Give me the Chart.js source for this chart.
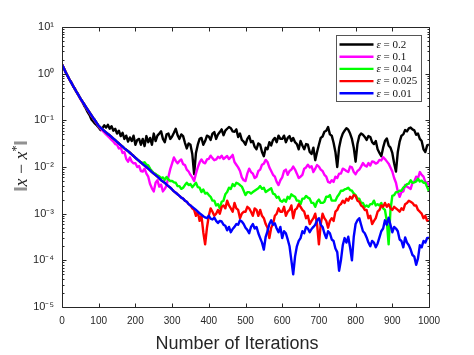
<!DOCTYPE html>
<html><head><meta charset="utf-8">
<script src="https://cdn.jsdelivr.net/npm/chart.js@4/dist/chart.umd.min.js"></script>
<style>html,body{margin:0;padding:0;background:#fff;}#wrap{width:474px;height:355px;}</style>
</head><body>
<div id="wrap"><canvas id="c" width="474" height="355"></canvas></div>
<script>
const iterations = [
0,5,10,15,20,25,30,35,40,45,50,55,60,65,70,75,80,85,90,95,
100,105,110,115,120,125,130,135,140,145,150,155,160,165,170,175,180,185,190,195,
200,205,210,215,220,225,230,235,240,245,250,255,260,265,270,275,280,285,290,295,
300,305,310,315,320,325,330,335,340,345,350,355,360,365,370,375,380,385,390,395,
400,405,410,415,420,425,430,435,440,445,450,455,460,465,470,475,480,485,490,495,
500,505,510,515,520,525,530,535,540,545,550,555,560,565,570,575,580,585,590,595,
600,605,610,615,620,625,630,635,640,645,650,655,660,665,670,675,680,685,690,695,
700,705,710,715,720,725,730,735,740,745,750,755,760,765,770,775,780,785,790,795,
800,805,810,815,820,825,830,835,840,845,850,855,860,865,870,875,880,885,890,895,
900,905,910,915,920,925,930,935,940,945,950,955,960,965,970,975,980,985,990,995,
1000];

const epsilonLabels = ['0.2','0.1','0.04','0.025','0.01'];
const seriesColors = ['#000000','#ff00ff','#00ff00','#ff0000','#0000ff'];

const errEps0_2 = [
1.58,1.3,1.07,0.9,0.76,0.65,0.55,0.47,0.40,0.345,0.295,0.25,0.21,0.18,0.15,0.13,0.105,0.095,0.085,0.078,
0.07,0.062,0.068,0.078,0.07,0.08,0.066,0.075,0.06,0.066,0.052,0.06,0.046,0.054,0.04,0.047,0.035,0.043,0.036,0.047,
0.03,0.038,0.04,0.03,0.04,0.028,0.046,0.034,0.042,0.03,0.052,0.036,0.047,0.052,0.058,0.04,0.034,0.05,0.052,0.04,
0.045,0.054,0.066,0.048,0.04,0.05,0.046,0.033,0.025,0.032,0.03,0.019,0.007,0.02,0.03,0.04,0.042,0.03,0.036,0.047,
0.045,0.038,0.052,0.056,0.04,0.05,0.056,0.064,0.048,0.06,0.066,0.072,0.068,0.058,0.057,0.064,0.044,0.052,0.038,0.035,
0.03,0.04,0.046,0.034,0.036,0.027,0.024,0.032,0.03,0.021,0.017,0.026,0.024,0.034,0.029,0.038,0.042,0.034,0.047,0.04,
0.04,0.047,0.034,0.042,0.046,0.036,0.042,0.034,0.031,0.024,0.036,0.029,0.024,0.031,0.03,0.021,0.019,0.026,0.014,0.021,
0.03,0.042,0.045,0.057,0.06,0.072,0.05,0.047,0.033,0.021,0.01,0.026,0.04,0.052,0.06,0.068,0.063,0.052,0.04,0.026,
0.013,0.031,0.046,0.052,0.049,0.044,0.038,0.046,0.044,0.034,0.031,0.036,0.024,0.02,0.017,0.026,0.036,0.041,0.029,0.026,
0.02,0.012,0.008,0.021,0.035,0.047,0.05,0.062,0.058,0.067,0.07,0.064,0.061,0.049,0.052,0.04,0.036,0.024,0.021,0.029,
0.03];

const errEps0_1 = [
1.58,1.3,1.07,0.9,0.76,0.65,0.55,0.47,0.40,0.345,0.29,0.25,0.22,0.19,0.165,0.145,0.125,0.11,0.097,0.085,
0.073,0.066,0.06,0.055,0.05,0.046,0.042,0.038,0.035,0.031,0.03,0.025,0.026,0.02,0.021,0.015,0.013,0.016,0.013,0.012,
0.012,0.01,0.0105,0.0082,0.008,0.0092,0.0072,0.0062,0.0043,0.0035,0.003,0.0046,0.0052,0.0038,0.0042,0.003,0.0034,0.004,0.0062,0.009,
0.012,0.016,0.0135,0.012,0.0135,0.0145,0.0115,0.011,0.0088,0.008,0.0068,0.006,0.005,0.0072,0.0098,0.0125,0.0145,0.0125,0.012,0.0145,
0.015,0.0175,0.0155,0.014,0.0145,0.0165,0.0155,0.0175,0.0148,0.016,0.0172,0.0148,0.0162,0.0182,0.0128,0.0112,0.0098,0.0082,0.006,0.0052,
0.005,0.0072,0.0092,0.0078,0.0072,0.0058,0.0062,0.0082,0.0088,0.0112,0.0118,0.0142,0.0128,0.0098,0.0082,0.0068,0.0062,0.0048,0.0041,0.0052,
0.006,0.0082,0.0088,0.0068,0.0082,0.0088,0.0102,0.0088,0.0072,0.0058,0.0062,0.0068,0.0092,0.0098,0.0112,0.0098,0.0104,0.0078,0.0092,0.011,
0.0102,0.0088,0.0082,0.0068,0.0062,0.0048,0.0046,0.0052,0.0048,0.0062,0.0058,0.0072,0.0072,0.0092,0.0088,0.0082,0.0078,0.0102,0.0098,0.0078,
0.007,0.0082,0.0088,0.0102,0.0122,0.0108,0.0102,0.0122,0.0108,0.0132,0.0128,0.0118,0.0124,0.0142,0.0138,0.0162,0.0148,0.0132,0.0118,0.0098,
0.008,0.0058,0.0046,0.003,0.0023,0.0029,0.003,0.0041,0.0038,0.0036,0.0034,0.0046,0.0049,0.0062,0.0058,0.0078,0.0068,0.0062,0.0048,0.0046,
0.004];

const errEps0_04 = [
1.58,1.3,1.07,0.9,0.76,0.65,0.55,0.47,0.40,0.345,0.295,0.257,0.224,0.195,0.17,0.148,0.129,0.113,0.1,0.087,
0.076,0.070,0.0646,0.0597,0.055,0.051,0.0479,0.044,0.0407,0.0376,0.0347,0.032,0.0295,0.0272,0.0251,0.0234,0.0219,0.0202,0.0186,0.0172,
0.0158,0.0146,0.0135,0.0125,0.0122,0.0126,0.0112,0.0108,0.0092,0.0082,0.0074,0.0071,0.0066,0.0063,0.0058,0.006,0.0053,0.0061,0.0054,0.005,
0.005,0.0047,0.0046,0.0039,0.0039,0.0034,0.0036,0.0041,0.0046,0.0041,0.0043,0.0037,0.0041,0.0046,0.0037,0.0036,0.0029,0.0033,0.0027,0.0028,
0.0025,0.0023,0.0019,0.0019,0.0015,0.0016,0.0013,0.0018,0.0019,0.0026,0.0029,0.0036,0.0034,0.0043,0.0039,0.0046,0.0044,0.0041,0.0038,0.0031,
0.0025,0.0029,0.0029,0.0027,0.0029,0.0031,0.0033,0.0035,0.0039,0.0034,0.0036,0.0029,0.0031,0.0033,0.0035,0.0027,0.0026,0.0022,0.0023,0.0019,
0.0018,0.002,0.0018,0.0023,0.0021,0.0026,0.0024,0.0023,0.0019,0.0019,0.0016,0.0021,0.0021,0.0024,0.0022,0.0021,0.0017,0.0017,0.0014,0.0018,
0.002,0.0017,0.0017,0.0018,0.0023,0.0023,0.0025,0.0019,0.0019,0.0019,0.0023,0.0026,0.0031,0.0031,0.0033,0.0034,0.0036,0.0032,0.0031,0.0027,
0.0025,0.0021,0.0021,0.0017,0.0017,0.0014,0.0015,0.0014,0.0016,0.0016,0.0019,0.0015,0.0016,0.0015,0.0017,0.0013,0.0012,0.0007,0.00022,0.0012,
0.0024,0.0025,0.0029,0.0029,0.0031,0.0031,0.0036,0.0039,0.0043,0.0044,0.0052,0.0046,0.0047,0.0049,0.0056,0.0049,0.0051,0.0046,0.0046,0.0037,
0.003];

const errEps0_025 = [
1.58,1.3,1.07,0.9,0.76,0.65,0.55,0.47,0.40,0.345,0.295,0.257,0.224,0.195,0.17,0.148,0.129,0.113,0.1,0.087,
0.076,0.070,0.0646,0.0597,0.055,0.051,0.0479,0.044,0.0407,0.0376,0.0347,0.032,0.0295,0.0272,0.0251,0.0234,0.0219,0.0202,0.0186,0.0172,
0.0158,0.0146,0.0135,0.0125,0.0115,0.0107,0.01,0.0092,0.0085,0.0078,0.0072,0.0067,0.0062,0.0057,0.0052,0.0049,0.0046,0.0042,0.0039,0.0036,
0.0033,0.003,0.0028,0.0026,0.0024,0.0022,0.0021,0.0019,0.0018,0.0016,0.0015,0.0013,0.0012,0.0009,0.0011,0.0007,0.0009,0.0004,0.00022,0.0005,
0.0009,0.0013,0.0011,0.0009,0.001,0.0012,0.001,0.0014,0.0015,0.0013,0.0019,0.0015,0.0013,0.0011,0.0017,0.0013,0.0012,0.0008,0.001,0.0011,
0.0011,0.0014,0.0013,0.0011,0.0009,0.0013,0.0012,0.0009,0.0012,0.0009,0.0008,0.0006,0.0005,0.0003,0.0005,0.0006,0.0009,0.001,0.0013,0.0011,
0.0011,0.0014,0.0009,0.0011,0.0012,0.0015,0.0008,0.0012,0.0013,0.0016,0.0014,0.0012,0.0011,0.0008,0.0009,0.0006,0.0007,0.0008,0.001,0.0006,
0.00022,0.0006,0.001,0.0008,0.0007,0.0005,0.0007,0.0008,0.0007,0.0011,0.0012,0.0015,0.0016,0.0019,0.0017,0.0021,0.0019,0.0023,0.0021,0.0025,
0.0024,0.0019,0.0018,0.0015,0.0014,0.0012,0.0012,0.0008,0.0009,0.0006,0.0007,0.0008,0.0011,0.0012,0.0015,0.0014,0.0017,0.0014,0.0016,0.0013,
0.0012,0.0014,0.0013,0.0012,0.0011,0.0013,0.0012,0.0016,0.0017,0.0019,0.0018,0.0017,0.0015,0.0015,0.0012,0.0011,0.001,0.0008,0.0009,0.0007,
0.0007];

const errEps0_01 = [
1.58,1.3,1.07,0.9,0.76,0.65,0.55,0.47,0.40,0.345,0.295,0.257,0.224,0.195,0.17,0.148,0.129,0.113,0.1,0.087,
0.076,0.070,0.0646,0.0597,0.055,0.051,0.0479,0.044,0.0407,0.0376,0.0347,0.032,0.0295,0.0272,0.0251,0.0234,0.0219,0.0202,0.0186,0.0172,
0.0158,0.0146,0.0135,0.0125,0.0115,0.0107,0.01,0.0092,0.0085,0.0078,0.0072,0.0067,0.0062,0.0057,0.0052,0.0049,0.0046,0.0042,0.0039,0.0036,
0.0033,0.003,0.0028,0.0026,0.0024,0.0022,0.0021,0.0019,0.0018,0.0016,0.0015,0.0014,0.0013,0.0012,0.0011,0.00102,0.00095,0.00088,0.00083,0.0008,
0.0009,0.00078,0.00075,0.00082,0.0007,0.00063,0.0007,0.00068,0.00058,0.00055,0.00044,0.00052,0.0004,0.00047,0.00052,0.0006,0.00058,0.00072,0.00068,0.0006,
0.0005,0.00045,0.00038,0.00052,0.0006,0.00048,0.00052,0.00038,0.0003,0.00024,0.00017,0.00032,0.00042,0.0006,0.00072,0.00058,0.00062,0.00048,0.0004,0.00052,
0.0003,0.00042,0.00038,0.00028,0.0002,0.0001,0.00005,0.00012,0.0002,0.00026,0.0003,0.00042,0.00038,0.00052,0.00048,0.0004,0.00047,0.00052,0.00058,0.00072,
0.0008,0.00058,0.00052,0.00038,0.0003,0.00042,0.00038,0.00028,0.00026,0.00018,0.00015,0.00006,0.0001,0.00021,0.0003,0.00024,0.00032,0.00019,0.0001,0.00032,
0.0006,0.00072,0.0008,0.00058,0.00042,0.00038,0.00031,0.00024,0.0002,0.00026,0.00024,0.00019,0.00023,0.00031,0.00042,0.00048,0.00072,0.00058,0.00082,0.00058,
0.0004,0.00052,0.00048,0.00042,0.00028,0.00026,0.00019,0.00031,0.00024,0.00021,0.00017,0.00013,0.00012,0.00008,0.00011,0.00021,0.00019,0.00026,0.00024,0.0003,
0.0003];

const xTickValues = [0,100,200,300,400,500,600,700,800,900,1000];
const yTickValues = [1e-5,1e-4,1e-3,1e-2,1e-1,1,10];
const yTickLabels = ['10\u207B\u2075','10\u207B\u2074','10\u207B\u00B3','10\u207B\u00B2','10\u207B\u00B9','10\u2070','10\u00B9'];
const xAxisTitle = 'Number of Iterations';

const allSeries = [errEps0_2, errEps0_1, errEps0_04, errEps0_025, errEps0_01];
const AXIS_COLOR = '#262626';
const SANS = '"Liberation Sans", Arial, Helvetica, sans-serif';
const SERIF = '"Liberation Serif", "Times New Roman", serif';

const datasets = allSeries.map((vals, i) => ({
  label: '\u03B5 = ' + epsilonLabels[i],
  data: iterations.map((it, j) => ({x: it, y: vals[j]})),
  borderColor: seriesColors[i],
  backgroundColor: seriesColors[i],
  borderWidth: 2.4,
  borderJoinStyle: 'round',
  pointRadius: 0,
  tension: 0,
  fill: false,
  order: allSeries.length - i
}));

const framePlugin = {
  id: 'frame',
  beforeDraw(chart) {
    const ctx = chart.ctx;
    ctx.save(); ctx.fillStyle = '#fff'; ctx.fillRect(0, 0, chart.width, chart.height); ctx.restore();
  },
  afterDatasetsDraw(chart) {
    const {ctx, chartArea: ca, scales: {x, y}} = chart;
    const L = Math.round(ca.left) + 0.5, R = Math.round(ca.right) + 0.5;
    const T = Math.round(ca.top) + 0.5, B = Math.round(ca.bottom) + 0.5;
    ctx.save();
    ctx.strokeStyle = AXIS_COLOR; ctx.lineWidth = 1;
    ctx.beginPath();
    ctx.rect(L, T, R - L, B - T);
    xTickValues.forEach(v => {
      const px = Math.round(x.getPixelForValue(v)) + 0.5;
      ctx.moveTo(px, B); ctx.lineTo(px, B - 4);
      ctx.moveTo(px, T); ctx.lineTo(px, T + 4);
    });
    for (let d = 0; d < yTickValues.length; d++) {
      const base = yTickValues[d];
      const py = Math.round(y.getPixelForValue(base)) + 0.5;
      ctx.moveTo(L, py); ctx.lineTo(L + 4, py);
      ctx.moveTo(R, py); ctx.lineTo(R - 4, py);
      if (d < yTickValues.length - 1) {
        for (let m = 2; m <= 9; m++) {
          const pm = Math.round(y.getPixelForValue(base * m)) + 0.5;
          ctx.moveTo(L, pm); ctx.lineTo(L + 2, pm);
          ctx.moveTo(R, pm); ctx.lineTo(R - 2, pm);
        }
      }
    }
    ctx.stroke();

    // x-axis title
    ctx.fillStyle = AXIS_COLOR;
    ctx.font = '18px ' + SANS;
    ctx.textAlign = 'center';
    ctx.textBaseline = 'alphabetic';
    ctx.fillText(xAxisTitle, 237, 349);

    // y-axis title: ||x - x*||
    const pieces = [
      {t: '\u2016', f: '18px ' + SERIF, dy: 0},
      {t: 'x', f: 'italic 18px ' + SERIF, dy: 0},
      {t: ' \u2212 ', f: '18px ' + SERIF, dy: 0},
      {t: 'x', f: 'italic 18px ' + SERIF, dy: 0},
      {t: '*', f: '12px ' + SERIF, dy: -7},
      {t: '\u2016', f: '18px ' + SERIF, dy: 0}
    ];
    let total = 0;
    pieces.forEach(p => { ctx.font = p.f; p.w = ctx.measureText(p.t).width; total += p.w; });
    ctx.translate(27, 166);
    ctx.rotate(-Math.PI / 2);
    ctx.textAlign = 'left';
    let cx = -total / 2;
    pieces.forEach(p => { ctx.font = p.f; ctx.fillText(p.t, cx, p.dy); cx += p.w; });
    ctx.restore();
  },
  afterDraw(chart) {
    const {ctx, chartArea: ca} = chart;
    const bx = Math.round(ca.right) - 93 + 0.5, by = Math.round(ca.top) + 8 + 0.5;
    const bw = 85, bh = 66;
    ctx.save();
    ctx.fillStyle = '#fff';
    ctx.fillRect(bx, by, bw, bh);
    ctx.strokeStyle = '#555'; ctx.lineWidth = 1;
    ctx.strokeRect(bx, by, bw, bh);
    chart.data.datasets.forEach((ds, i) => {
      const ry = by + 9 + i * 12.2;
      ctx.strokeStyle = ds.borderColor; ctx.lineWidth = 2.4;
      ctx.beginPath(); ctx.moveTo(bx + 3, ry); ctx.lineTo(bx + 37, ry); ctx.stroke();
      ctx.fillStyle = '#111';
      ctx.textBaseline = 'middle'; ctx.textAlign = 'left';
      ctx.font = 'italic 11px ' + SERIF;
      const tx = bx + 40;
      ctx.fillText('\u03B5', tx, ry + 0.5);
      const ew = ctx.measureText('\u03B5').width;
      ctx.font = '11px ' + SERIF;
      ctx.fillText(' = ' + epsilonLabels[i], tx + ew, ry + 0.5);
    });
    ctx.restore();
  }
};

new Chart(document.getElementById('c'), {
  type: 'line',
  data: {datasets},
  options: {
    responsive: false,
    animation: false,
    devicePixelRatio: 1,
    layout: {padding: {left: 0, right: 45, top: 27, bottom: 0}},
    plugins: {legend: {display: false}, tooltip: {enabled: false}},
    scales: {
      x: {
        type: 'linear', min: 0, max: 1000,
        afterBuildTicks: s => { s.ticks = xTickValues.map(v => ({value: v})); },
        ticks: {autoSkip: false, maxRotation: 0, padding: 8, color: AXIS_COLOR,
                font: {family: SANS, size: 10}, callback: v => String(v)},
        grid: {display: false, drawTicks: false},
        border: {display: false},
        title: {display: false},
        afterFit: s => { s.height = 48; }
      },
      y: {
        type: 'logarithmic', min: 1e-5, max: 10,
        afterBuildTicks: s => { s.ticks = yTickValues.map(v => ({value: v})); },
        ticks: {autoSkip: false, padding: 8, color: AXIS_COLOR,
                font: {family: SANS, size: 11},
                callback: v => { const i = yTickValues.indexOf(v); return i >= 0 ? yTickLabels[i] : ''; }},
        grid: {display: false, drawTicks: false},
        border: {display: false},
        afterFit: s => { s.width = 62; }
      }
    }
  },
  plugins: [framePlugin]
});
</script>
</body></html>
